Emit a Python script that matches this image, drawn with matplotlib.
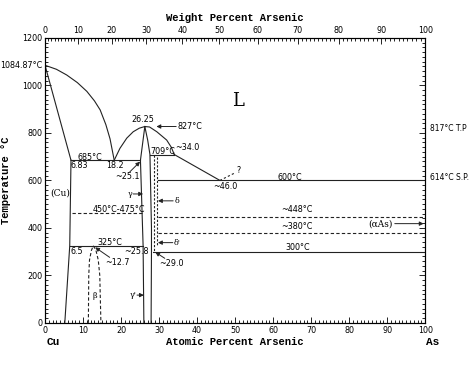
import numpy as np
import matplotlib
matplotlib.use("Agg")
import matplotlib.pyplot as plt

# ---------------- data (at.% As, temperature °C) ----------------
liq_left_x = [0, 3, 5.7, 8.5, 11, 13, 14.5, 16, 17.1, 18.2]
liq_left_t = [1084.87, 1068, 1044, 1012, 975, 935, 897, 835, 775, 685]
liq_mid_x = [18.2, 19.7, 21.5, 23.2, 24.8, 26.25, 27.5, 29.4, 32.0, 33.2, 34.0]
liq_mid_t = [685, 735, 778, 805, 820, 827, 825, 805, 770, 740, 709]
liq_right_x = [34.0, 46.0]
liq_right_t = [709, 600]
liq_dot_x = [46.0, 50.0]
liq_dot_t = [600, 632]
cu_solidus_x = [0, 6.83]
cu_solidus_t = [1084.87, 685]
cu_solvus_x = [6.83, 6.5, 5.2]
cu_solvus_t = [685, 325, 0]
gam_left_x = [26.25, 25.1, 25.8, 26.0]
gam_left_t = [827, 685, 325, 0]
gam_right_x = [26.25, 27.0, 27.6, 28.0, 28.0, 27.9]
gam_right_t = [827, 770, 709, 400, 300, 0]
delta_l_x = [28.6, 28.6]
delta_l_t = [709, 300]
delta_r_x = [29.4, 29.4]
delta_r_t = [700, 330]
beta_x = [11.4, 11.5, 11.7, 12.2, 12.7, 13.4, 14.0, 14.4, 14.7]
beta_t = [0, 200, 265, 305, 325, 305, 265, 200, 0]
# isotherms: (x_start, x_end, temperature)
iso_solid = [(6.83, 25.1, 685), (27.6, 34.0, 709), (29.6, 100, 600),
             (6.5, 25.8, 325), (28.5, 100, 300)]
iso_dash = [(7.0, 25.8, 462), (29.6, 100, 448), (29.6, 100, 380)]

temp_ticks = [0, 200, 400, 600, 800, 1000, 1200]
at_ticks = [0, 10, 20, 30, 40, 50, 60, 70, 80, 90, 100]
wt_ticks = [0, 10, 20, 30, 40, 50, 60, 70, 80, 90, 100]
M_AS, M_CU = 74.9216, 63.546


def wt_to_at(w):
    w = np.asarray(w, dtype=float)
    a = w / M_AS
    c = (100 - w) / M_CU
    return 100 * a / (a + c)


# ---------------- figure ----------------
fig = plt.figure(figsize=(4.74, 3.72), dpi=100)
ax = fig.add_axes([0.095, 0.132, 0.802, 0.766])
ax.set_xlim(0, 100)
ax.set_ylim(0, 1200)

lc = "#222222"
lw = 0.8
kw = dict(color=lc, lw=lw)
ax.plot(liq_left_x, liq_left_t, **kw)
ax.plot(liq_mid_x, liq_mid_t, **kw)
ax.plot(liq_right_x, liq_right_t, **kw)
ax.plot(liq_dot_x, liq_dot_t, color=lc, lw=lw, ls=(0, (2, 2)))
ax.plot(cu_solidus_x, cu_solidus_t, **kw)
ax.plot(cu_solvus_x, cu_solvus_t, **kw)
ax.plot(gam_left_x, gam_left_t, **kw)
ax.plot(gam_right_x, gam_right_t, **kw)
ax.plot(delta_l_x, delta_l_t, color=lc, lw=lw, ls=(0, (2, 1.5)))
ax.plot(delta_r_x, delta_r_t, color=lc, lw=lw, ls=(0, (2, 1.5)))
ax.plot(beta_x, beta_t, color=lc, lw=lw, ls=(0, (3, 2)))
for x0, x1, t in iso_solid:
    ax.plot([x0, x1], [t, t], **kw)
for x0, x1, t in iso_dash:
    ax.plot([x0, x1], [t, t], color=lc, lw=lw, ls=(0, (3, 2)))

# ---------------- axes / ticks ----------------
tfs = 5.8
ax.set_yticks(temp_ticks)
ax.set_yticklabels([str(t) for t in temp_ticks], fontsize=tfs)
ax.set_yticks(np.arange(0, 1201, 20), minor=True)
ax.set_xticks(at_ticks)
ax.set_xticklabels([str(v) for v in at_ticks], fontsize=tfs)
ax.set_xticks(np.arange(0, 101, 1), minor=True)
ax.tick_params(which="both", direction="in", right=True, width=0.6, pad=2)
ax.tick_params(which="major", length=4)
ax.tick_params(which="minor", length=2)
for s in ax.spines.values():
    s.set_linewidth(0.8)
    s.set_color(lc)

ax2 = ax.twiny()
ax2.set_xlim(0, 100)
ax2.set_xticks(wt_to_at(wt_ticks))
ax2.set_xticklabels([str(v) for v in wt_ticks], fontsize=tfs)
ax2.set_xticks(wt_to_at(np.arange(0, 101, 1)), minor=True)
ax2.tick_params(which="both", direction="in", width=0.6, pad=2)
ax2.tick_params(which="major", length=4)
ax2.tick_params(which="minor", length=2)
ax2.spines["top"].set_linewidth(0.8)

mono = "Liberation Mono"
ax2.set_xlabel("Weight Percent Arsenic", fontsize=7.6, family=mono,
               fontweight="bold", labelpad=4)
ax.set_xlabel("Atomic Percent Arsenic", fontsize=7.6, family=mono,
              fontweight="bold", labelpad=2)
ax.set_ylabel("Temperature °C", fontsize=7.6, family=mono,
              fontweight="bold", labelpad=8)
fig.text(0.112, 0.072, "Cu", fontsize=8, family=mono, fontweight="bold",
         ha="center")
fig.text(0.912, 0.072, "As", fontsize=8, family=mono, fontweight="bold",
         ha="center")

# ---------------- annotations ----------------
afs = 5.8
serif = "DejaVu Serif"


def t(x, y, s, ha="center", va="center", fs=afs, **k):
    ax.text(x, y, s, ha=ha, va=va, fontsize=fs, clip_on=False, **k)


def arrow(x0, y0, x1, y1):
    ax.annotate("", xy=(x1, y1), xytext=(x0, y0),
                arrowprops=dict(arrowstyle="-|>", color=lc, lw=0.7,
                                mutation_scale=6, shrinkA=0, shrinkB=0))


t(-0.6, 1084.87, "1084.87°C", ha="right")
t(101.3, 820, "817°C T.P", ha="left", fs=5.5)
t(101.3, 614, "614°C S.P.", ha="left", fs=5.5)
t(50.8, 935, "L", fs=13, family=serif)
t(25.6, 855, "26.25")
t(34.8, 827, "827°C", ha="left")
arrow(34.5, 827, 29.3, 827)
t(34.2, 738, "~34.0", ha="left")
t(27.7, 722, "709°C", ha="left")
t(11.8, 697, "685°C")
t(9.0, 662, "6.83")
t(18.4, 662, "18.2")
t(21.6, 616, "~25.1")
arrow(22.3, 636, 25.0, 679)
t(47.3, 576, "~46.0")
t(50.9, 643, "?")
t(64.5, 614, "600°C")
t(4.0, 547, "(Cu)", fs=6.5, family=serif)
t(22.3, 543, "γ", family=serif)
arrow(23.2, 543, 25.8, 543)
t(34.6, 514, "δ", family=serif)
arrow(33.7, 514, 29.7, 514)
t(19.5, 477, "450°C-475°C")
t(66.2, 477, "~448°C")
t(66.2, 405, "~380°C")
t(88.2, 418, "(αAs)", fs=6.5, family=serif)
arrow(92.0, 418, 99.6, 418)
t(34.8, 338, "δ'", family=serif)
arrow(33.6, 338, 29.7, 338)
t(17.0, 338, "325°C")
t(66.5, 318, "300°C")
t(8.3, 300, "6.5")
t(24.0, 300, "~25.8")
t(19.0, 256, "~12.7")
arrow(17.0, 276, 13.2, 318)
t(33.2, 252, "~29.0")
arrow(31.5, 272, 29.0, 298)
t(13.0, 112, "β", family=serif)
t(23.3, 117, "γ'", family=serif)
arrow(24.2, 117, 26.0, 117)

fig.savefig("out.png", dpi=100)
